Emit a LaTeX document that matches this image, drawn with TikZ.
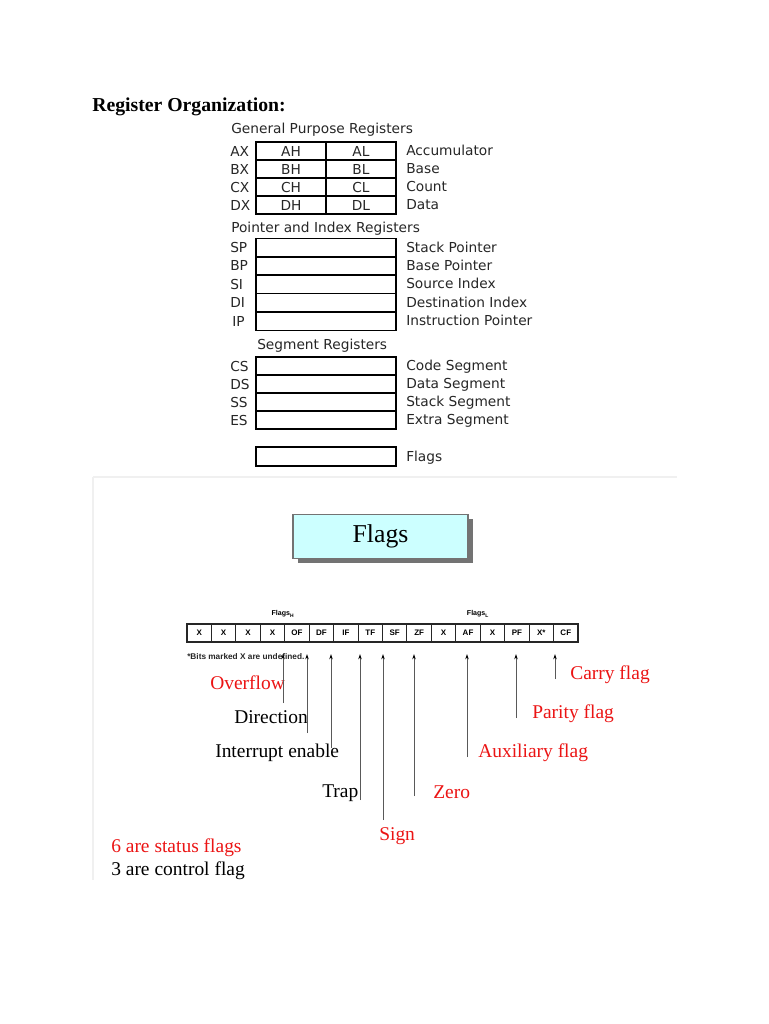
\documentclass[tikz,border=0pt]{standalone}
\usepackage{fontspec}
\setmainfont{Liberation Serif}
\newfontfamily\regfont{DejaVu Sans}
\newfontfamily\tinysans{Liberation Sans}
\usetikzlibrary{arrows.meta,shadows}
\definecolor{flagcyan}{RGB}{204,255,255}
\definecolor{flagred}{RGB}{235,20,20}
\begin{document}
\begin{tikzpicture}[x=0.75pt,y=-0.75pt,
  regtxt/.style={font=\regfont\fontsize{10.3}{12}\selectfont, inner sep=0pt, text=black!85},
  reglbl/.style={regtxt, anchor=base west},
  halfcell/.style={draw=black, line width=1pt, minimum width=52.5pt, minimum height=13.5pt, inner sep=0pt, outer sep=0pt},
  fullcell/.style={draw=black, line width=1pt, minimum width=105pt, minimum height=13.6pt, inner sep=0pt, outer sep=0pt},
  bitcell/.style={draw=black!85, line width=0.7pt, minimum width=18.33pt, minimum height=13.5pt, inner sep=0pt, outer sep=0pt, font=\tinysans\bfseries\fontsize{6}{7}\selectfont},
  lbl/.style={font=\fontsize{14.6}{17}\selectfont, anchor=base west, inner sep=0pt},
  redlbl/.style={lbl, text=flagred},
  blacklbl/.style={lbl, text=black},
  flagline/.style={draw=black!65, line width=0.75pt, -{Stealth[length=4pt,width=2.6pt,color=black]}},
  faint/.style={draw=black!6, line width=0.8pt}
]
\useasboundingbox (0,0) rectangle (768,1024);

% title
\node[font=\bfseries\fontsize{14.8}{17}\selectfont, anchor=base west, inner sep=0pt] (title) at (92,111) {Register Organization:};

% ---------- General purpose registers ----------
\node[reglbl] (gprtitle) at (231,133) {General Purpose Registers};
\foreach \r/\h/\l/\desc [count=\k from 0] in {AX/AH/AL/Accumulator, BX/BH/BL/Base, CX/CH/CL/Count, DX/DH/DL/Data}{
  \node[halfcell] (\h) at (291,{151+18*\k}) {};
  \node[halfcell] (\l) at (361,{151+18*\k}) {};
  \node[regtxt, anchor=base] (t\h) at (291,{156+18*\k}) {\h};
  \node[regtxt, anchor=base] (t\l) at (361,{156+18*\k}) {\l};
  \node[reglbl] (lab\r) at (230,{156+18*\k}) {\r};
  \node[reglbl] (desc\r) at (406,{155+18*\k}) {\desc};
}

% ---------- Pointer and index registers ----------
\node[reglbl] (pirtitle) at (231,232) {Pointer and Index Registers};
\foreach \r/\desc/\xo [count=\k from 0] in {SP/Stack Pointer/230, BP/Base Pointer/230, SI/Source Index/230, DI/Destination Index/230, IP/Instruction Pointer/232}{
  \node[fullcell] (box\r) at (326,{247.5+18.45*\k}) {};
  \node[reglbl] (lab\r) at (\xo,{252.5+18.45*\k}) {\r};
  \node[reglbl] (desc\r) at (406,{252+18.45*\k}) {\desc};
}

% ---------- Segment registers ----------
\node[reglbl] (segtitle) at (257,349) {Segment Registers};
\foreach \r/\desc [count=\k from 0] in {CS/Code Segment, DS/Data Segment, SS/Stack Segment, ES/Extra Segment}{
  \node[fullcell, minimum height=13.5pt] (box\r) at (326,{366+18*\k}) {};
  \node[reglbl] (lab\r) at (230,{371+18*\k}) {\r};
  \node[reglbl] (desc\r) at (406,{370+18*\k}) {\desc};
}

% ---------- Flags register ----------
\node[fullcell, minimum height=14.2pt] (boxFL) at (326,456.5) {};
\node[reglbl] (descFL) at (406,461) {Flags};

% ---------- faint frame of lower picture ----------
\draw[faint] (93,477) -- (677,477);
\draw[faint] (93,477) -- (93,880);

% ---------- Flags heading box ----------
\node[draw=black!55, line width=1pt, fill=flagcyan, minimum width=131.25pt, minimum height=33pt,
      drop shadow={shadow xshift=3.5pt, shadow yshift=-3.5pt, fill=black!55, opacity=1},
      font=\fontsize{19.3}{22}\selectfont] (flagsbox) at (380.5,536.5) {Flags};

% ---------- bit row ----------
\foreach \t [count=\k from 0] in {X,X,X,X,OF,DF,IF,TF,SF,ZF,X,AF,X,PF,X*,CF}{
  \node[bitcell] (c\k) at ({187+24.44*(\k+0.5)},633) {\t};
}
\draw[line width=1pt, black!85] (c0.north west) rectangle (c15.south east);
\draw[line width=1.3pt, black!85] (c7.north east) -- (c7.south east);
\node[font=\tinysans\bfseries\fontsize{5.3}{6}\selectfont, inner sep=0pt] (flagsH) at (283,614) {Flags\textsubscript{H}};
\node[font=\tinysans\bfseries\fontsize{5.3}{6}\selectfont, inner sep=0pt] (flagsL) at (478,614) {Flags\textsubscript{L}};
\node[font=\tinysans\bfseries\fontsize{6.2}{7}\selectfont, anchor=west, inner sep=0pt, text=black!85] (note) at (187,657) {*Bits marked X are undefined.};

% ---------- labels ----------
\node[redlbl]   (lOF) at (210,689) {Overflow};
\node[blacklbl] (lDF) at (234,723) {Direction};
\node[blacklbl] (lIF) at (215,757) {Interrupt enable};
\node[blacklbl] (lTF) at (322,797) {Trap};
\node[redlbl]   (lSF) at (379,840) {Sign};
\node[redlbl]   (lZF) at (433,798) {Zero};
\node[redlbl]   (lAF) at (478,757) {Auxiliary flag};
\node[redlbl]   (lPF) at (532,718) {Parity flag};
\node[redlbl]   (lCF) at (570,679) {Carry flag};
\node[redlbl]   (stat) at (111,852) {6 are status flags};
\node[blacklbl] (ctrl) at (111,875) {3 are control flag};

% ---------- arrows ----------
\foreach \n/\x/\yb in {OF/283/703, DF/307/733, IF/331/748, TF/360/800, SF/383/820, ZF/414/796, AF/467/757, PF/516/718, CF/555/679}{
  \coordinate (t\n) at (\x,654);
  \coordinate (b\n) at (\x,\yb);
  \draw[flagline] (b\n) -- (t\n);
}
\end{tikzpicture}
\end{document}
